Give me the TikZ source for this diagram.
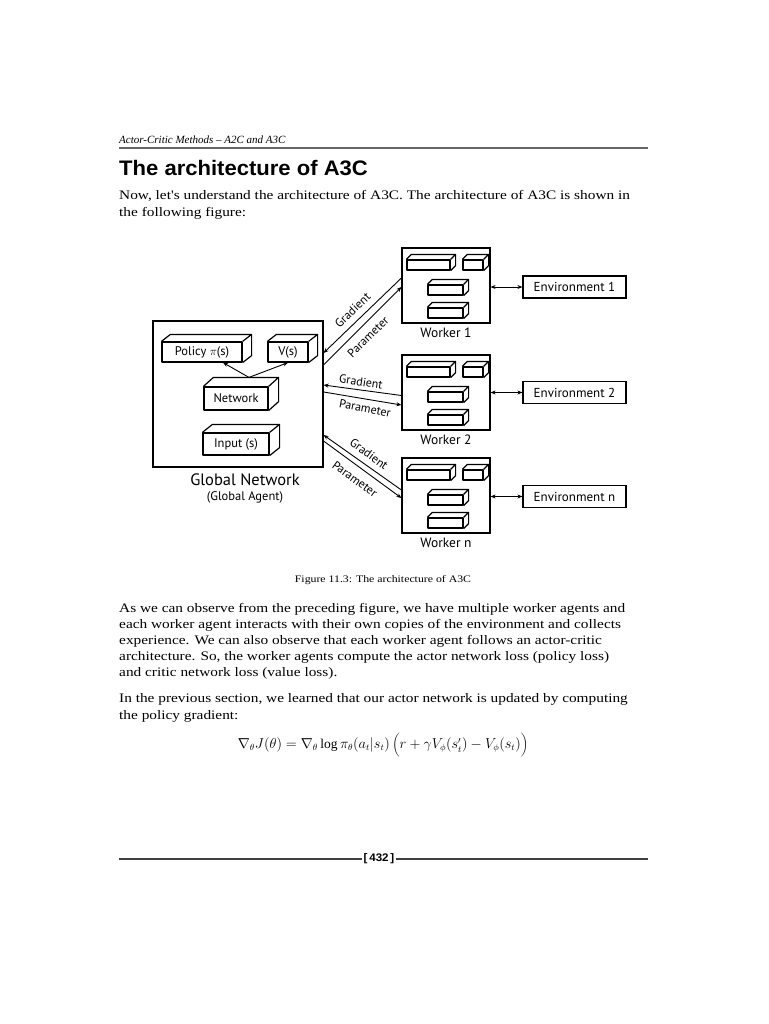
\documentclass[tikz,border=0pt]{standalone}
\usepackage{fontspec}
\setmainfont{Liberation Serif}
\newfontfamily\bodyfont[FakeStretch=1.18]{Liberation Serif}
\newfontfamily\titlefont[FakeStretch=1.05]{Liberation Sans}
\newfontfamily\diagfont{PT Sans}
\usetikzlibrary{arrows.meta}
\newcommand\cuboid[3]{%
  \draw[boxline] (#1.north west) -- ++(#2,-#3) -- ([shift={(#2,-#3)}]#1.north east) -- (#1.north east)
    ([shift={(#2,-#3)}]#1.north east) -- ([shift={(#2,-#3)}]#1.south east) -- (#1.south east);}
\newcommand\mkworker[4]{%
  \node[wbox] (#1) at (#2,#3) {};
  \node[diag, font=\diagfont\fontsize{13.5}{15}\selectfont] (#1l) at (#2,#3+47.5) {#4};
  \node[ibox, minimum width=43] (#1a) at (#2-17.5,#3-20.5) {};
  \node[ibox, minimum width=20] (#1b) at (#2+27,#3-20.5) {};
  \node[ibox, minimum width=35] (#1c) at (#2-0.5,#3+4.5) {};
  \node[ibox, minimum width=35] (#1d) at (#2-0.5,#3+27.5) {};
  \cuboid{#1a}{5}{5}\cuboid{#1b}{5}{5}\cuboid{#1c}{5}{5}\cuboid{#1d}{5}{5}}
\begin{document}
\begin{tikzpicture}[x=1pt,y=-1pt,
  boxline/.style={line width=1.2pt, line join=round},
  body/.style={anchor=base west, inner sep=0, font=\bodyfont\fontsize{13}{15}\selectfont},
  diag/.style={inner sep=0, font=\diagfont\fontsize{13}{15}\selectfont},
  cubefront/.style={boxline, draw, fill=white, inner sep=0, font=\diagfont\fontsize{12.5}{14}\selectfont},
  wbox/.style={draw, line width=1.2pt, minimum width=88, minimum height=75, inner sep=0},
  ibox/.style={boxline, draw, minimum height=10, inner sep=0},
  envbox/.style={draw, line width=1.2pt, minimum width=103, minimum height=22, inner sep=0, font=\diagfont\fontsize{13}{15}\selectfont},
  conn/.style={line width=0.9pt, -{Stealth[length=5pt,width=4pt]}},
  dconn/.style={line width=0.9pt, {Stealth[length=5pt,width=4pt]}-{Stealth[length=5pt,width=4pt]}},
  lbl/.style={inner sep=0, font=\diagfont\fontsize{12}{14}\selectfont}]
\useasboundingbox[fill=white] (0,0) rectangle (768,1024);
% header
\node[anchor=base west, inner sep=0, font=\itshape\fontsize{11}{13}\selectfont] (hdr) at (119,144) {Actor-Critic Methods -- A2C and A3C};
\draw[line width=2.2pt, black!60] (119,148) -- (648,148);
\node[anchor=base west, inner sep=0, font=\titlefont\bfseries\fontsize{21}{24}\selectfont] (title) at (119,175.5) {The architecture of A3C};
\node[body] (p1a) at (119,199.5) {Now, let's understand the architecture of A3C. The architecture of A3C is shown in};
\node[body] (p1b) at (119,216.5) {the following figure:};
% global network
\node[draw, line width=1.1pt, minimum width=170, minimum height=146, inner sep=0] (gn) at (238,394) {};
\node[cubefront, minimum width=80, minimum height=20] (pol) at (202,352) {Policy \(\pi\)(s)};
\node[cubefront, minimum width=40, minimum height=20] (val) at (288,352) {V(s)};
\node[cubefront, minimum width=64, minimum height=23] (net) at (236,398.5) {Network};
\node[cubefront, minimum width=66, minimum height=22] (inp) at (236,444) {Input (s)};
\cuboid{pol}{9}{7}\cuboid{val}{9}{7}\cuboid{net}{10}{9}\cuboid{inp}{10}{8}
\coordinate (nettop) at ([shift={(13,-9)}]net.north);
\draw[conn] (nettop) -- (pol.south -| 223,0);
\draw[conn] (nettop) -- (val.south);
\node[inner sep=0, font=\diagfont\fontsize{16.5}{19}\selectfont] (gnl) at (245,480) {Global Network};
\node[inner sep=0, font=\diagfont\fontsize{12.5}{14}\selectfont] (gnl2) at (245,497.5) {(Global Agent)};
% workers
\mkworker{w1}{446}{285.5}{Worker 1}
\mkworker{w2}{446}{392.5}{Worker 2}
\mkworker{wn}{446}{495.5}{Worker n}
\node[envbox] (e1) at (574.5,287) {Environment 1};
\node[envbox] (e2) at (574.5,392.5) {Environment 2};
\node[envbox] (en) at (574.5,496.5) {Environment n};
\draw[dconn] (e1.west -| w1.east) -- (e1.west);
\draw[dconn] (e2.west -| w2.east) -- (e2.west);
\draw[dconn] (en.west -| wn.east) -- (en.west);
% gradient / parameter
\draw[conn] ([yshift=7.5pt]w1.west) -- ([yshift=41pt]gn.east);
\draw[conn] ([yshift=29pt]gn.east) -- ([yshift=-1.5pt]w1.west);
\draw[conn] ([yshift=-3pt]w2.west) -- ([yshift=9pt]gn.east);
\draw[conn] ([yshift=2pt]gn.east) -- ([yshift=-12.5pt]w2.west);
\draw[conn] ([yshift=5.5pt]wn.west) -- ([yshift=-41pt]gn.east);
\draw[conn] ([yshift=-47pt]gn.east) -- ([yshift=-2.5pt]wn.west);
\node[lbl, rotate=43.5] (g1) at (352.5,310) {Gradient};
\node[lbl, rotate=44.5] (q1) at (368,337) {Parameter};
\node[lbl, rotate=-9] (g2) at (361,382) {Gradient};
\node[lbl, rotate=-11] (q2) at (365,408) {Parameter};
\node[lbl, rotate=-36] (g3) at (369,454) {Gradient};
\node[lbl, rotate=-36] (q3) at (355,479) {Parameter};
% caption
\node[inner sep=0, font=\bodyfont\fontsize{10}{12}\selectfont] (cap) at (383,580) {Figure 11.3: The architecture of A3C};
\node[body] (p2a) at (119,612) {As we can observe from the preceding figure, we have multiple worker agents and};
\node[body] (p2b) at (119,628) {each worker agent interacts with their own copies of the environment and collects};
\node[body] (p2c) at (119,644) {experience. We can also observe that each worker agent follows an actor-critic};
\node[body] (p2d) at (119,660) {architecture. So, the worker agents compute the actor network loss (policy loss)};
\node[body] (p2e) at (119,676) {and critic network loss (value loss).};
\node[body] (p3a) at (119,702) {In the previous section, we learned that our actor network is updated by computing};
\node[body] (p3b) at (119,719) {the policy gradient:};
\node[inner sep=0, font=\fontsize{13.5}{15}\selectfont] (eq) at (383,745) {\(\nabla_\theta J(\theta) = \nabla_\theta \log \pi_\theta(a_t|s_t)\,\biggl(r+\gamma V_\phi(s'_t)-V_\phi(s_t)\biggr)\)};
% footer
\node[inner sep=1pt, font=\titlefont\bfseries\fontsize{11}{13}\selectfont] (pg) at (379,859) {[\,432\,]};
\draw[line width=1.1pt, black!75] (119,859) -- (pg.west);
\draw[line width=1.1pt, black!75] (pg.east) -- (648,859);
\end{tikzpicture}
\end{document}
